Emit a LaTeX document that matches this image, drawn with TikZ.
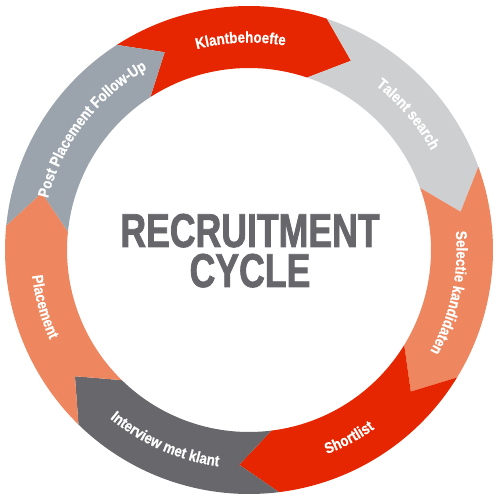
\documentclass[tikz,border=0pt]{standalone}
\usepackage{fontspec}
\setmainfont{Liberation Sans}
\newfontfamily\lblfam{Liberation Sans Bold}[FakeStretch=0.86, FakeBold=0.6]
\newfontfamily\ttlfam{Liberation Sans Bold}[FakeStretch=0.75, FakeBold=1.6]
\usetikzlibrary{decorations.text}
\definecolor{cred}{RGB}{230,38,0}
\definecolor{clgray}{RGB}{206,207,209}
\definecolor{csalmon}{RGB}{238,135,95}
\definecolor{cdgray}{RGB}{104,103,108}
\definecolor{cbgray}{RGB}{155,164,172}
\definecolor{ctitle}{RGB}{103,102,107}
\newcommand\lblfont{\fontsize{15.5pt}{18pt}\selectfont\lblfam}
\newcommand\ttlfont{\fontsize{47.5pt}{50pt}\selectfont\ttlfam}
\tikzset{
  lbl/.style={decorate, decoration={text along path, text color=white, text align=center, text={|\lblfont|#1}}},
  title/.style={anchor=base, text=ctitle, font=\ttlfont, inner sep=0pt}
}
\begin{document}
\begin{tikzpicture}
\useasboundingbox (0,0) rectangle (500pt,495pt);
\begin{scope}[shift={(249pt,245pt)}]
\foreach \k/\col in {0/cred,1/clgray,2/csalmon,3/cred,4/cdgray,5/csalmon,6/cbgray}{
  \pgfmathsetmacro\a{122.8-51.4286*\k}
  \pgfmathsetmacro\b{\a-51.4286}
  \pgfmathsetmacro\tb{\b-9.7}
  \pgfmathsetmacro\ta{\a-9.7}
  \fill[\col] (\a:244pt) arc[start angle=\a, end angle=\b, radius=244pt]
    -- (\tb:215pt) -- (\b:182pt)
    arc[start angle=\b, end angle=\a, radius=182pt]
    -- (\ta:215pt) -- cycle;
}
\path[lbl=Klantbehoefte] (137.3:207.5pt) arc[start angle=137.3, end angle=47.3, radius=207.5pt];
\path[lbl=Talent search] (85.5:207.5pt) arc[start angle=85.5, end angle=-4.5, radius=207.5pt];
\path[lbl=Selectie kandidaten] (33:207.5pt) arc[start angle=33, end angle=-57, radius=207.5pt];
\path[lbl=Post Placement Follow-Up] (187.5:207.5pt) arc[start angle=187.5, end angle=97.5, radius=207.5pt];
\path[lbl=Shortlist] (-107:218.5pt) arc[start angle=-107, end angle=-17, radius=218.5pt];
\path[lbl=Interview met klant] (-158.8:218.5pt) arc[start angle=-158.8, end angle=-68.8, radius=218.5pt];
\path[lbl=Placement] (150.5:218.5pt) arc[start angle=150.5, end angle=240.5, radius=218.5pt];
\end{scope}
\node[title] (t1) at (250pt,248pt) {RECRUITMENT};
\node[title] (t2) at (250pt,208pt) {CYCLE};
\end{tikzpicture}
\end{document}
